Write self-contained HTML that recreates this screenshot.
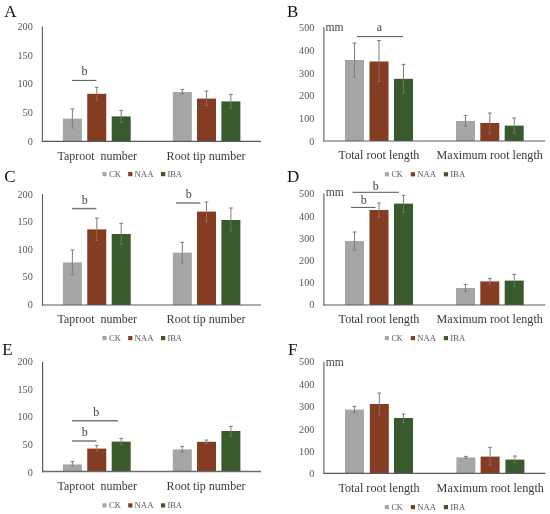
<!DOCTYPE html>
<html><head><meta charset="utf-8"><title>Figure</title>
<style>
html,body{margin:0;padding:0;background:#fff;}
svg{display:block;font-family:"Liberation Serif","Times New Roman",serif;}
</style></head><body>
<svg width="550" height="514" viewBox="0 0 550 514">
<rect width="550" height="514" fill="#fff"/>
<text x="4.2" y="16.8" font-size="17" fill="#111">A</text>
<text x="32.8" y="29.9" font-size="10.2" fill="#555" text-anchor="end">200</text>
<text x="32.8" y="58.6" font-size="10.2" fill="#555" text-anchor="end">150</text>
<text x="32.8" y="87.2" font-size="10.2" fill="#555" text-anchor="end">100</text>
<text x="32.8" y="116.0" font-size="10.2" fill="#555" text-anchor="end">50</text>
<text x="32.8" y="144.6" font-size="10.2" fill="#555" text-anchor="end">0</text>
<rect x="62.90" y="118.60" width="19.00" height="22.70" fill="#a6a6a6"/>
<rect x="87.25" y="93.80" width="19.00" height="47.50" fill="#843c22"/>
<rect x="111.70" y="116.40" width="19.00" height="24.90" fill="#385a2c"/>
<rect x="172.80" y="92.00" width="19.00" height="49.30" fill="#a6a6a6"/>
<rect x="197.00" y="98.60" width="19.00" height="42.70" fill="#843c22"/>
<rect x="221.40" y="101.40" width="19.00" height="39.90" fill="#385a2c"/>
<line x1="42.4" y1="26.6" x2="42.4" y2="141.9" stroke="#5e5e5e" stroke-width="1.1"/>
<line x1="41.85" y1="141.3" x2="261" y2="141.3" stroke="#5a5a5a" stroke-width="1.2"/>
<line x1="72.4" y1="109" x2="72.4" y2="118.6" stroke="#6e6e6e" stroke-width="0.9"/>
<line x1="72.4" y1="118.6" x2="72.4" y2="128" stroke="#747474" stroke-width="0.8" opacity="1"/>
<line x1="70.7" y1="128" x2="74.10000000000001" y2="128" stroke="#747474" stroke-width="0.7" opacity="1"/>
<line x1="70.5" y1="109" x2="74.30000000000001" y2="109" stroke="#6e6e6e" stroke-width="0.9"/>
<line x1="96.75" y1="87.4" x2="96.75" y2="93.8" stroke="#6e6e6e" stroke-width="0.9"/>
<line x1="96.75" y1="93.8" x2="96.75" y2="100" stroke="#a8a8a8" stroke-width="0.8" opacity="0.5"/>
<line x1="95.05" y1="100" x2="98.45" y2="100" stroke="#a8a8a8" stroke-width="0.7" opacity="0.5"/>
<line x1="94.85" y1="87.4" x2="98.65" y2="87.4" stroke="#6e6e6e" stroke-width="0.9"/>
<line x1="121.2" y1="110.4" x2="121.2" y2="116.4" stroke="#6e6e6e" stroke-width="0.9"/>
<line x1="121.2" y1="116.4" x2="121.2" y2="122.4" stroke="#a8a8a8" stroke-width="0.8" opacity="0.5"/>
<line x1="119.5" y1="122.4" x2="122.9" y2="122.4" stroke="#a8a8a8" stroke-width="0.7" opacity="0.5"/>
<line x1="119.3" y1="110.4" x2="123.10000000000001" y2="110.4" stroke="#6e6e6e" stroke-width="0.9"/>
<line x1="182.3" y1="89.4" x2="182.3" y2="92" stroke="#6e6e6e" stroke-width="0.9"/>
<line x1="182.3" y1="92" x2="182.3" y2="93.6" stroke="#747474" stroke-width="0.8" opacity="1"/>
<line x1="180.60000000000002" y1="93.6" x2="184.0" y2="93.6" stroke="#747474" stroke-width="0.7" opacity="1"/>
<line x1="180.4" y1="89.4" x2="184.20000000000002" y2="89.4" stroke="#6e6e6e" stroke-width="0.9"/>
<line x1="206.5" y1="91" x2="206.5" y2="98.6" stroke="#6e6e6e" stroke-width="0.9"/>
<line x1="206.5" y1="98.6" x2="206.5" y2="105.6" stroke="#a8a8a8" stroke-width="0.8" opacity="0.5"/>
<line x1="204.8" y1="105.6" x2="208.2" y2="105.6" stroke="#a8a8a8" stroke-width="0.7" opacity="0.5"/>
<line x1="204.6" y1="91" x2="208.4" y2="91" stroke="#6e6e6e" stroke-width="0.9"/>
<line x1="230.9" y1="94.4" x2="230.9" y2="101.4" stroke="#6e6e6e" stroke-width="0.9"/>
<line x1="230.9" y1="101.4" x2="230.9" y2="108" stroke="#a8a8a8" stroke-width="0.8" opacity="0.5"/>
<line x1="229.20000000000002" y1="108" x2="232.6" y2="108" stroke="#a8a8a8" stroke-width="0.7" opacity="0.5"/>
<line x1="229.0" y1="94.4" x2="232.8" y2="94.4" stroke="#6e6e6e" stroke-width="0.9"/>
<text x="57.6" y="159.5" font-size="12" fill="#3a3a3a" textLength="79.4" lengthAdjust="spacingAndGlyphs" xml:space="preserve">Taproot  number</text>
<text x="166.6" y="159.5" font-size="12" fill="#3a3a3a" textLength="79.0" lengthAdjust="spacingAndGlyphs" xml:space="preserve">Root tip number</text>
<rect x="102.40" y="172.00" width="4.20" height="4.20" fill="#a6a6a6"/>
<text x="109" y="177" font-size="8.6" fill="#595959" textLength="12" lengthAdjust="spacingAndGlyphs">CK</text>
<rect x="128.20" y="172.00" width="4.20" height="4.20" fill="#843c22"/>
<text x="134.4" y="177" font-size="8.6" fill="#595959" textLength="19.2" lengthAdjust="spacingAndGlyphs">NAA</text>
<rect x="161.00" y="172.00" width="4.20" height="4.20" fill="#385a2c"/>
<text x="167.4" y="177" font-size="8.6" fill="#595959" textLength="14.6" lengthAdjust="spacingAndGlyphs">IBA</text>
<line x1="72" y1="80.4" x2="96.4" y2="80.4" stroke="#555" stroke-width="1"/>
<text x="84.4" y="75" font-size="12" fill="#444" text-anchor="middle">b</text>
<text x="287" y="16.8" font-size="17" fill="#111">B</text>
<text x="314.4" y="31.2" font-size="10.2" fill="#555" text-anchor="end">500</text>
<text x="314.4" y="54.0" font-size="10.2" fill="#555" text-anchor="end">400</text>
<text x="314.4" y="76.7" font-size="10.2" fill="#555" text-anchor="end">300</text>
<text x="314.4" y="99.2" font-size="10.2" fill="#555" text-anchor="end">200</text>
<text x="314.4" y="121.7" font-size="10.2" fill="#555" text-anchor="end">100</text>
<text x="314.4" y="144.5" font-size="10.2" fill="#555" text-anchor="end">0</text>
<rect x="345.00" y="60.00" width="19.00" height="81.00" fill="#a6a6a6"/>
<rect x="369.50" y="61.50" width="19.00" height="79.50" fill="#843c22"/>
<rect x="394.00" y="78.80" width="19.00" height="62.20" fill="#385a2c"/>
<rect x="456.00" y="121.00" width="19.00" height="20.00" fill="#a6a6a6"/>
<rect x="480.30" y="123.00" width="19.00" height="18.00" fill="#843c22"/>
<rect x="504.70" y="125.60" width="19.00" height="15.40" fill="#385a2c"/>
<line x1="323.9" y1="27" x2="323.9" y2="141.6" stroke="#5e5e5e" stroke-width="1.1"/>
<line x1="323.34999999999997" y1="141.0" x2="545.2" y2="141.0" stroke="#5a5a5a" stroke-width="1.2"/>
<line x1="354.5" y1="43" x2="354.5" y2="60" stroke="#6e6e6e" stroke-width="0.9"/>
<line x1="354.5" y1="60" x2="354.5" y2="77" stroke="#747474" stroke-width="0.8" opacity="1"/>
<line x1="352.8" y1="77" x2="356.2" y2="77" stroke="#747474" stroke-width="0.7" opacity="1"/>
<line x1="352.6" y1="43" x2="356.4" y2="43" stroke="#6e6e6e" stroke-width="0.9"/>
<line x1="379" y1="40.6" x2="379" y2="61.5" stroke="#6e6e6e" stroke-width="0.9"/>
<line x1="379" y1="61.5" x2="379" y2="81.6" stroke="#a8a8a8" stroke-width="0.8" opacity="0.5"/>
<line x1="377.3" y1="81.6" x2="380.7" y2="81.6" stroke="#a8a8a8" stroke-width="0.7" opacity="0.5"/>
<line x1="377.1" y1="40.6" x2="380.9" y2="40.6" stroke="#6e6e6e" stroke-width="0.9"/>
<line x1="403.5" y1="64.4" x2="403.5" y2="78.8" stroke="#6e6e6e" stroke-width="0.9"/>
<line x1="403.5" y1="78.8" x2="403.5" y2="93" stroke="#a8a8a8" stroke-width="0.8" opacity="0.5"/>
<line x1="401.8" y1="93" x2="405.2" y2="93" stroke="#a8a8a8" stroke-width="0.7" opacity="0.5"/>
<line x1="401.6" y1="64.4" x2="405.4" y2="64.4" stroke="#6e6e6e" stroke-width="0.9"/>
<line x1="465.5" y1="115.4" x2="465.5" y2="121" stroke="#6e6e6e" stroke-width="0.9"/>
<line x1="465.5" y1="121" x2="465.5" y2="126.4" stroke="#747474" stroke-width="0.8" opacity="1"/>
<line x1="463.8" y1="126.4" x2="467.2" y2="126.4" stroke="#747474" stroke-width="0.7" opacity="1"/>
<line x1="463.6" y1="115.4" x2="467.4" y2="115.4" stroke="#6e6e6e" stroke-width="0.9"/>
<line x1="489.8" y1="113" x2="489.8" y2="123" stroke="#6e6e6e" stroke-width="0.9"/>
<line x1="489.8" y1="123" x2="489.8" y2="133.4" stroke="#a8a8a8" stroke-width="0.8" opacity="0.5"/>
<line x1="488.1" y1="133.4" x2="491.5" y2="133.4" stroke="#a8a8a8" stroke-width="0.7" opacity="0.5"/>
<line x1="487.90000000000003" y1="113" x2="491.7" y2="113" stroke="#6e6e6e" stroke-width="0.9"/>
<line x1="514.2" y1="118" x2="514.2" y2="125.6" stroke="#6e6e6e" stroke-width="0.9"/>
<line x1="514.2" y1="125.6" x2="514.2" y2="133" stroke="#a8a8a8" stroke-width="0.8" opacity="0.5"/>
<line x1="512.5" y1="133" x2="515.9000000000001" y2="133" stroke="#a8a8a8" stroke-width="0.7" opacity="0.5"/>
<line x1="512.3000000000001" y1="118" x2="516.1" y2="118" stroke="#6e6e6e" stroke-width="0.9"/>
<text x="338.6" y="159.4" font-size="12" fill="#3a3a3a" textLength="80.8" lengthAdjust="spacingAndGlyphs" xml:space="preserve">Total root length</text>
<text x="436.6" y="159.4" font-size="12" fill="#3a3a3a" textLength="106.2" lengthAdjust="spacingAndGlyphs" xml:space="preserve">Maximum root length</text>
<rect x="384.80" y="172.20" width="4.20" height="4.20" fill="#a6a6a6"/>
<text x="391.4" y="177" font-size="8.6" fill="#595959" textLength="11.4" lengthAdjust="spacingAndGlyphs">CK</text>
<rect x="410.80" y="172.20" width="4.20" height="4.20" fill="#843c22"/>
<text x="417.2" y="177" font-size="8.6" fill="#595959" textLength="18.8" lengthAdjust="spacingAndGlyphs">NAA</text>
<rect x="443.80" y="172.20" width="4.20" height="4.20" fill="#385a2c"/>
<text x="450.2" y="177" font-size="8.6" fill="#595959" textLength="15.0" lengthAdjust="spacingAndGlyphs">IBA</text>
<line x1="357" y1="36.6" x2="403" y2="36.6" stroke="#555" stroke-width="1"/>
<text x="379.3" y="31.4" font-size="12" fill="#444" text-anchor="middle">a</text>
<text x="325.4" y="31" font-size="11.6" fill="#444">mm</text>
<text x="4.2" y="181.9" font-size="17" fill="#111">C</text>
<text x="32.8" y="197.5" font-size="10.2" fill="#555" text-anchor="end">200</text>
<text x="32.8" y="225.2" font-size="10.2" fill="#555" text-anchor="end">150</text>
<text x="32.8" y="252.7" font-size="10.2" fill="#555" text-anchor="end">100</text>
<text x="32.8" y="280.3" font-size="10.2" fill="#555" text-anchor="end">50</text>
<text x="32.8" y="308.2" font-size="10.2" fill="#555" text-anchor="end">0</text>
<rect x="62.90" y="262.40" width="19.00" height="42.60" fill="#a6a6a6"/>
<rect x="87.25" y="229.40" width="19.00" height="75.60" fill="#843c22"/>
<rect x="111.70" y="234.00" width="19.00" height="71.00" fill="#385a2c"/>
<rect x="172.80" y="252.60" width="19.00" height="52.40" fill="#a6a6a6"/>
<rect x="197.00" y="211.60" width="19.00" height="93.40" fill="#843c22"/>
<rect x="221.40" y="220.00" width="19.00" height="85.00" fill="#385a2c"/>
<line x1="42.5" y1="194" x2="42.5" y2="305.6" stroke="#5e5e5e" stroke-width="1.1"/>
<line x1="41.95" y1="305.0" x2="261" y2="305.0" stroke="#5a5a5a" stroke-width="1.2"/>
<line x1="72.4" y1="250" x2="72.4" y2="262.4" stroke="#6e6e6e" stroke-width="0.9"/>
<line x1="72.4" y1="262.4" x2="72.4" y2="274.6" stroke="#747474" stroke-width="0.8" opacity="1"/>
<line x1="70.7" y1="274.6" x2="74.10000000000001" y2="274.6" stroke="#747474" stroke-width="0.7" opacity="1"/>
<line x1="70.5" y1="250" x2="74.30000000000001" y2="250" stroke="#6e6e6e" stroke-width="0.9"/>
<line x1="96.75" y1="218" x2="96.75" y2="229.4" stroke="#6e6e6e" stroke-width="0.9"/>
<line x1="96.75" y1="229.4" x2="96.75" y2="240.6" stroke="#a8a8a8" stroke-width="0.8" opacity="0.5"/>
<line x1="95.05" y1="240.6" x2="98.45" y2="240.6" stroke="#a8a8a8" stroke-width="0.7" opacity="0.5"/>
<line x1="94.85" y1="218" x2="98.65" y2="218" stroke="#6e6e6e" stroke-width="0.9"/>
<line x1="121.2" y1="223.4" x2="121.2" y2="234" stroke="#6e6e6e" stroke-width="0.9"/>
<line x1="121.2" y1="234" x2="121.2" y2="244.4" stroke="#a8a8a8" stroke-width="0.8" opacity="0.5"/>
<line x1="119.5" y1="244.4" x2="122.9" y2="244.4" stroke="#a8a8a8" stroke-width="0.7" opacity="0.5"/>
<line x1="119.3" y1="223.4" x2="123.10000000000001" y2="223.4" stroke="#6e6e6e" stroke-width="0.9"/>
<line x1="182.3" y1="242.4" x2="182.3" y2="252.6" stroke="#6e6e6e" stroke-width="0.9"/>
<line x1="182.3" y1="252.6" x2="182.3" y2="263" stroke="#747474" stroke-width="0.8" opacity="1"/>
<line x1="180.60000000000002" y1="263" x2="184.0" y2="263" stroke="#747474" stroke-width="0.7" opacity="1"/>
<line x1="180.4" y1="242.4" x2="184.20000000000002" y2="242.4" stroke="#6e6e6e" stroke-width="0.9"/>
<line x1="206.5" y1="202" x2="206.5" y2="211.6" stroke="#6e6e6e" stroke-width="0.9"/>
<line x1="206.5" y1="211.6" x2="206.5" y2="221.6" stroke="#a8a8a8" stroke-width="0.8" opacity="0.5"/>
<line x1="204.8" y1="221.6" x2="208.2" y2="221.6" stroke="#a8a8a8" stroke-width="0.7" opacity="0.5"/>
<line x1="204.6" y1="202" x2="208.4" y2="202" stroke="#6e6e6e" stroke-width="0.9"/>
<line x1="230.9" y1="208" x2="230.9" y2="220" stroke="#6e6e6e" stroke-width="0.9"/>
<line x1="230.9" y1="220" x2="230.9" y2="231" stroke="#a8a8a8" stroke-width="0.8" opacity="0.5"/>
<line x1="229.20000000000002" y1="231" x2="232.6" y2="231" stroke="#a8a8a8" stroke-width="0.7" opacity="0.5"/>
<line x1="229.0" y1="208" x2="232.8" y2="208" stroke="#6e6e6e" stroke-width="0.9"/>
<text x="57.6" y="323.3" font-size="12" fill="#3a3a3a" textLength="79.4" lengthAdjust="spacingAndGlyphs" xml:space="preserve">Taproot  number</text>
<text x="166.6" y="323.3" font-size="12" fill="#3a3a3a" textLength="79.0" lengthAdjust="spacingAndGlyphs" xml:space="preserve">Root tip number</text>
<rect x="102.40" y="336.00" width="4.20" height="4.20" fill="#a6a6a6"/>
<text x="109" y="341" font-size="8.6" fill="#595959" textLength="12" lengthAdjust="spacingAndGlyphs">CK</text>
<rect x="128.20" y="336.00" width="4.20" height="4.20" fill="#843c22"/>
<text x="134.4" y="341" font-size="8.6" fill="#595959" textLength="19.2" lengthAdjust="spacingAndGlyphs">NAA</text>
<rect x="161.00" y="336.00" width="4.20" height="4.20" fill="#385a2c"/>
<text x="167.4" y="341" font-size="8.6" fill="#595959" textLength="14.6" lengthAdjust="spacingAndGlyphs">IBA</text>
<line x1="72" y1="208.6" x2="96.4" y2="208.6" stroke="#7a7a7a" stroke-width="1.5"/>
<text x="84.7" y="203.6" font-size="12" fill="#444" text-anchor="middle">b</text>
<line x1="176" y1="203" x2="200.4" y2="203" stroke="#7a7a7a" stroke-width="1.5"/>
<text x="188.8" y="198" font-size="12" fill="#444" text-anchor="middle">b</text>
<text x="287" y="181.7" font-size="17" fill="#111">D</text>
<text x="314.4" y="197.2" font-size="10.2" fill="#555" text-anchor="end">500</text>
<text x="314.4" y="219.6" font-size="10.2" fill="#555" text-anchor="end">400</text>
<text x="314.4" y="241.7" font-size="10.2" fill="#555" text-anchor="end">300</text>
<text x="314.4" y="264.2" font-size="10.2" fill="#555" text-anchor="end">200</text>
<text x="314.4" y="286.2" font-size="10.2" fill="#555" text-anchor="end">100</text>
<text x="314.4" y="308.2" font-size="10.2" fill="#555" text-anchor="end">0</text>
<rect x="345.00" y="241.00" width="19.00" height="64.00" fill="#a6a6a6"/>
<rect x="369.50" y="210.00" width="19.00" height="95.00" fill="#843c22"/>
<rect x="394.00" y="203.60" width="19.00" height="101.40" fill="#385a2c"/>
<rect x="456.00" y="288.00" width="19.00" height="17.00" fill="#a6a6a6"/>
<rect x="480.30" y="281.40" width="19.00" height="23.60" fill="#843c22"/>
<rect x="504.70" y="280.60" width="19.00" height="24.40" fill="#385a2c"/>
<line x1="323.9" y1="193.6" x2="323.9" y2="305.6" stroke="#5e5e5e" stroke-width="1.1"/>
<line x1="323.34999999999997" y1="305.0" x2="545.2" y2="305.0" stroke="#5a5a5a" stroke-width="1.2"/>
<line x1="354.5" y1="232" x2="354.5" y2="241" stroke="#6e6e6e" stroke-width="0.9"/>
<line x1="354.5" y1="241" x2="354.5" y2="250" stroke="#747474" stroke-width="0.8" opacity="1"/>
<line x1="352.8" y1="250" x2="356.2" y2="250" stroke="#747474" stroke-width="0.7" opacity="1"/>
<line x1="352.6" y1="232" x2="356.4" y2="232" stroke="#6e6e6e" stroke-width="0.9"/>
<line x1="379" y1="203" x2="379" y2="210" stroke="#6e6e6e" stroke-width="0.9"/>
<line x1="379" y1="210" x2="379" y2="217" stroke="#a8a8a8" stroke-width="0.8" opacity="0.5"/>
<line x1="377.3" y1="217" x2="380.7" y2="217" stroke="#a8a8a8" stroke-width="0.7" opacity="0.5"/>
<line x1="377.1" y1="203" x2="380.9" y2="203" stroke="#6e6e6e" stroke-width="0.9"/>
<line x1="403.5" y1="195.4" x2="403.5" y2="203.6" stroke="#6e6e6e" stroke-width="0.9"/>
<line x1="403.5" y1="203.6" x2="403.5" y2="212" stroke="#a8a8a8" stroke-width="0.8" opacity="0.5"/>
<line x1="401.8" y1="212" x2="405.2" y2="212" stroke="#a8a8a8" stroke-width="0.7" opacity="0.5"/>
<line x1="401.6" y1="195.4" x2="405.4" y2="195.4" stroke="#6e6e6e" stroke-width="0.9"/>
<line x1="465.5" y1="284.4" x2="465.5" y2="288" stroke="#6e6e6e" stroke-width="0.9"/>
<line x1="465.5" y1="288" x2="465.5" y2="291.4" stroke="#747474" stroke-width="0.8" opacity="1"/>
<line x1="463.8" y1="291.4" x2="467.2" y2="291.4" stroke="#747474" stroke-width="0.7" opacity="1"/>
<line x1="463.6" y1="284.4" x2="467.4" y2="284.4" stroke="#6e6e6e" stroke-width="0.9"/>
<line x1="489.8" y1="278.4" x2="489.8" y2="281.4" stroke="#6e6e6e" stroke-width="0.9"/>
<line x1="489.8" y1="281.4" x2="489.8" y2="284" stroke="#a8a8a8" stroke-width="0.8" opacity="0.5"/>
<line x1="488.1" y1="284" x2="491.5" y2="284" stroke="#a8a8a8" stroke-width="0.7" opacity="0.5"/>
<line x1="487.90000000000003" y1="278.4" x2="491.7" y2="278.4" stroke="#6e6e6e" stroke-width="0.9"/>
<line x1="514.2" y1="274.4" x2="514.2" y2="280.6" stroke="#6e6e6e" stroke-width="0.9"/>
<line x1="514.2" y1="280.6" x2="514.2" y2="286.4" stroke="#a8a8a8" stroke-width="0.8" opacity="0.5"/>
<line x1="512.5" y1="286.4" x2="515.9000000000001" y2="286.4" stroke="#a8a8a8" stroke-width="0.7" opacity="0.5"/>
<line x1="512.3000000000001" y1="274.4" x2="516.1" y2="274.4" stroke="#6e6e6e" stroke-width="0.9"/>
<text x="338.6" y="322.9" font-size="12" fill="#3a3a3a" textLength="80.8" lengthAdjust="spacingAndGlyphs" xml:space="preserve">Total root length</text>
<text x="436.6" y="322.9" font-size="12" fill="#3a3a3a" textLength="106.2" lengthAdjust="spacingAndGlyphs" xml:space="preserve">Maximum root length</text>
<rect x="384.80" y="336.00" width="4.20" height="4.20" fill="#a6a6a6"/>
<text x="391.4" y="341" font-size="8.6" fill="#595959" textLength="11.4" lengthAdjust="spacingAndGlyphs">CK</text>
<rect x="410.80" y="336.00" width="4.20" height="4.20" fill="#843c22"/>
<text x="417.2" y="341" font-size="8.6" fill="#595959" textLength="18.8" lengthAdjust="spacingAndGlyphs">NAA</text>
<rect x="443.80" y="336.00" width="4.20" height="4.20" fill="#385a2c"/>
<text x="450.2" y="341" font-size="8.6" fill="#595959" textLength="15.0" lengthAdjust="spacingAndGlyphs">IBA</text>
<line x1="352.6" y1="192.3" x2="399" y2="192.3" stroke="#555" stroke-width="1"/>
<text x="375.8" y="189.6" font-size="12" fill="#444" text-anchor="middle">b</text>
<line x1="351" y1="207.4" x2="375.6" y2="207.4" stroke="#555" stroke-width="1"/>
<text x="363.8" y="204.4" font-size="12" fill="#444" text-anchor="middle">b</text>
<text x="325.8" y="196" font-size="11.6" fill="#444">mm</text>
<text x="2.2" y="354.6" font-size="17" fill="#111">E</text>
<text x="32.8" y="365.0" font-size="10.2" fill="#555" text-anchor="end">200</text>
<text x="32.8" y="392.6" font-size="10.2" fill="#555" text-anchor="end">150</text>
<text x="32.8" y="420.2" font-size="10.2" fill="#555" text-anchor="end">100</text>
<text x="32.8" y="448.1" font-size="10.2" fill="#555" text-anchor="end">50</text>
<text x="32.8" y="475.5" font-size="10.2" fill="#555" text-anchor="end">0</text>
<rect x="62.90" y="464.40" width="19.00" height="7.10" fill="#a6a6a6"/>
<rect x="87.25" y="448.60" width="19.00" height="22.90" fill="#843c22"/>
<rect x="111.70" y="441.60" width="19.00" height="29.90" fill="#385a2c"/>
<rect x="172.80" y="449.40" width="19.00" height="22.10" fill="#a6a6a6"/>
<rect x="197.00" y="441.80" width="19.00" height="29.70" fill="#843c22"/>
<rect x="221.40" y="431.00" width="19.00" height="40.50" fill="#385a2c"/>
<line x1="42.6" y1="362" x2="42.6" y2="472.25" stroke="#5a5a5a" stroke-width="1.2"/>
<line x1="42.0" y1="471.5" x2="261" y2="471.5" stroke="#6a6a6a" stroke-width="1.5"/>
<line x1="72.4" y1="461.6" x2="72.4" y2="464.4" stroke="#6e6e6e" stroke-width="0.9"/>
<line x1="72.4" y1="464.4" x2="72.4" y2="466" stroke="#747474" stroke-width="0.8" opacity="1"/>
<line x1="70.7" y1="466" x2="74.10000000000001" y2="466" stroke="#747474" stroke-width="0.7" opacity="1"/>
<line x1="70.5" y1="461.6" x2="74.30000000000001" y2="461.6" stroke="#6e6e6e" stroke-width="0.9"/>
<line x1="96.75" y1="445.4" x2="96.75" y2="448.6" stroke="#6e6e6e" stroke-width="0.9"/>
<line x1="96.75" y1="448.6" x2="96.75" y2="451" stroke="#a8a8a8" stroke-width="0.8" opacity="0.5"/>
<line x1="95.05" y1="451" x2="98.45" y2="451" stroke="#a8a8a8" stroke-width="0.7" opacity="0.5"/>
<line x1="94.85" y1="445.4" x2="98.65" y2="445.4" stroke="#6e6e6e" stroke-width="0.9"/>
<line x1="121.2" y1="438.4" x2="121.2" y2="441.6" stroke="#6e6e6e" stroke-width="0.9"/>
<line x1="121.2" y1="441.6" x2="121.2" y2="445" stroke="#a8a8a8" stroke-width="0.8" opacity="0.5"/>
<line x1="119.5" y1="445" x2="122.9" y2="445" stroke="#a8a8a8" stroke-width="0.7" opacity="0.5"/>
<line x1="119.3" y1="438.4" x2="123.10000000000001" y2="438.4" stroke="#6e6e6e" stroke-width="0.9"/>
<line x1="182.3" y1="446.4" x2="182.3" y2="449.4" stroke="#6e6e6e" stroke-width="0.9"/>
<line x1="182.3" y1="449.4" x2="182.3" y2="452" stroke="#747474" stroke-width="0.8" opacity="1"/>
<line x1="180.60000000000002" y1="452" x2="184.0" y2="452" stroke="#747474" stroke-width="0.7" opacity="1"/>
<line x1="180.4" y1="446.4" x2="184.20000000000002" y2="446.4" stroke="#6e6e6e" stroke-width="0.9"/>
<line x1="206.5" y1="440" x2="206.5" y2="441.8" stroke="#6e6e6e" stroke-width="0.9"/>
<line x1="206.5" y1="441.8" x2="206.5" y2="443.5" stroke="#a8a8a8" stroke-width="0.8" opacity="0.5"/>
<line x1="204.8" y1="443.5" x2="208.2" y2="443.5" stroke="#a8a8a8" stroke-width="0.7" opacity="0.5"/>
<line x1="204.6" y1="440" x2="208.4" y2="440" stroke="#6e6e6e" stroke-width="0.9"/>
<line x1="230.9" y1="426.4" x2="230.9" y2="431" stroke="#6e6e6e" stroke-width="0.9"/>
<line x1="230.9" y1="431" x2="230.9" y2="436" stroke="#a8a8a8" stroke-width="0.8" opacity="0.5"/>
<line x1="229.20000000000002" y1="436" x2="232.6" y2="436" stroke="#a8a8a8" stroke-width="0.7" opacity="0.5"/>
<line x1="229.0" y1="426.4" x2="232.8" y2="426.4" stroke="#6e6e6e" stroke-width="0.9"/>
<text x="57.6" y="489.8" font-size="12" fill="#3a3a3a" textLength="79.4" lengthAdjust="spacingAndGlyphs" xml:space="preserve">Taproot  number</text>
<text x="166.6" y="489.8" font-size="12" fill="#3a3a3a" textLength="79.0" lengthAdjust="spacingAndGlyphs" xml:space="preserve">Root tip number</text>
<rect x="102.40" y="503.30" width="4.20" height="4.20" fill="#a6a6a6"/>
<text x="109" y="508.1" font-size="8.6" fill="#595959" textLength="12" lengthAdjust="spacingAndGlyphs">CK</text>
<rect x="128.20" y="503.30" width="4.20" height="4.20" fill="#843c22"/>
<text x="134.4" y="508.1" font-size="8.6" fill="#595959" textLength="19.2" lengthAdjust="spacingAndGlyphs">NAA</text>
<rect x="161.00" y="503.30" width="4.20" height="4.20" fill="#385a2c"/>
<text x="167.4" y="508.1" font-size="8.6" fill="#595959" textLength="14.6" lengthAdjust="spacingAndGlyphs">IBA</text>
<line x1="72" y1="420.8" x2="118" y2="420.8" stroke="#7a7a7a" stroke-width="1.5"/>
<text x="96.3" y="415.6" font-size="12" fill="#444" text-anchor="middle">b</text>
<line x1="72" y1="441" x2="96.4" y2="441" stroke="#7a7a7a" stroke-width="1.5"/>
<text x="84.7" y="435.6" font-size="12" fill="#444" text-anchor="middle">b</text>
<text x="288" y="354.6" font-size="17" fill="#111">F</text>
<text x="314.4" y="365.2" font-size="10.2" fill="#555" text-anchor="end">500</text>
<text x="314.4" y="387.7" font-size="10.2" fill="#555" text-anchor="end">400</text>
<text x="314.4" y="409.9" font-size="10.2" fill="#555" text-anchor="end">300</text>
<text x="314.4" y="432.5" font-size="10.2" fill="#555" text-anchor="end">200</text>
<text x="314.4" y="454.9" font-size="10.2" fill="#555" text-anchor="end">100</text>
<text x="314.4" y="477.0" font-size="10.2" fill="#555" text-anchor="end">0</text>
<rect x="345.00" y="409.60" width="19.00" height="63.70" fill="#a6a6a6"/>
<rect x="369.80" y="404.00" width="19.00" height="69.30" fill="#843c22"/>
<rect x="394.00" y="418.00" width="19.00" height="55.30" fill="#385a2c"/>
<rect x="456.40" y="457.40" width="19.00" height="15.90" fill="#a6a6a6"/>
<rect x="480.60" y="456.60" width="19.00" height="16.70" fill="#843c22"/>
<rect x="505.40" y="459.60" width="19.00" height="13.70" fill="#385a2c"/>
<line x1="323.9" y1="362" x2="323.9" y2="473.90000000000003" stroke="#5e5e5e" stroke-width="1.1"/>
<line x1="323.34999999999997" y1="473.3" x2="545.4" y2="473.3" stroke="#5a5a5a" stroke-width="1.2"/>
<line x1="354.5" y1="406.4" x2="354.5" y2="409.6" stroke="#6e6e6e" stroke-width="0.9"/>
<line x1="354.5" y1="409.6" x2="354.5" y2="412.4" stroke="#747474" stroke-width="0.8" opacity="1"/>
<line x1="352.8" y1="412.4" x2="356.2" y2="412.4" stroke="#747474" stroke-width="0.7" opacity="1"/>
<line x1="352.6" y1="406.4" x2="356.4" y2="406.4" stroke="#6e6e6e" stroke-width="0.9"/>
<line x1="379.3" y1="393" x2="379.3" y2="404" stroke="#6e6e6e" stroke-width="0.9"/>
<line x1="379.3" y1="404" x2="379.3" y2="415" stroke="#a8a8a8" stroke-width="0.8" opacity="0.5"/>
<line x1="377.6" y1="415" x2="381.0" y2="415" stroke="#a8a8a8" stroke-width="0.7" opacity="0.5"/>
<line x1="377.40000000000003" y1="393" x2="381.2" y2="393" stroke="#6e6e6e" stroke-width="0.9"/>
<line x1="403.5" y1="414" x2="403.5" y2="418" stroke="#6e6e6e" stroke-width="0.9"/>
<line x1="403.5" y1="418" x2="403.5" y2="422.4" stroke="#a8a8a8" stroke-width="0.8" opacity="0.5"/>
<line x1="401.8" y1="422.4" x2="405.2" y2="422.4" stroke="#a8a8a8" stroke-width="0.7" opacity="0.5"/>
<line x1="401.6" y1="414" x2="405.4" y2="414" stroke="#6e6e6e" stroke-width="0.9"/>
<line x1="465.9" y1="456.4" x2="465.9" y2="457.4" stroke="#6e6e6e" stroke-width="0.9"/>
<line x1="465.9" y1="457.4" x2="465.9" y2="458.6" stroke="#747474" stroke-width="0.8" opacity="1"/>
<line x1="464.2" y1="458.6" x2="467.59999999999997" y2="458.6" stroke="#747474" stroke-width="0.7" opacity="1"/>
<line x1="464.0" y1="456.4" x2="467.79999999999995" y2="456.4" stroke="#6e6e6e" stroke-width="0.9"/>
<line x1="490.1" y1="447.4" x2="490.1" y2="456.6" stroke="#6e6e6e" stroke-width="0.9"/>
<line x1="490.1" y1="456.6" x2="490.1" y2="465" stroke="#a8a8a8" stroke-width="0.8" opacity="0.5"/>
<line x1="488.40000000000003" y1="465" x2="491.8" y2="465" stroke="#a8a8a8" stroke-width="0.7" opacity="0.5"/>
<line x1="488.20000000000005" y1="447.4" x2="492.0" y2="447.4" stroke="#6e6e6e" stroke-width="0.9"/>
<line x1="514.9" y1="456" x2="514.9" y2="459.6" stroke="#6e6e6e" stroke-width="0.9"/>
<line x1="514.9" y1="459.6" x2="514.9" y2="462.6" stroke="#a8a8a8" stroke-width="0.8" opacity="0.5"/>
<line x1="513.1999999999999" y1="462.6" x2="516.6" y2="462.6" stroke="#a8a8a8" stroke-width="0.7" opacity="0.5"/>
<line x1="513.0" y1="456" x2="516.8" y2="456" stroke="#6e6e6e" stroke-width="0.9"/>
<text x="338.4" y="491.8" font-size="12" fill="#3a3a3a" textLength="81.2" lengthAdjust="spacingAndGlyphs" xml:space="preserve">Total root length</text>
<text x="436.6" y="491.8" font-size="12" fill="#3a3a3a" textLength="107.4" lengthAdjust="spacingAndGlyphs" xml:space="preserve">Maximum root length</text>
<rect x="384.80" y="505.00" width="4.20" height="4.20" fill="#a6a6a6"/>
<text x="391.4" y="510" font-size="8.6" fill="#595959" textLength="11.4" lengthAdjust="spacingAndGlyphs">CK</text>
<rect x="410.80" y="505.00" width="4.20" height="4.20" fill="#843c22"/>
<text x="417.2" y="510" font-size="8.6" fill="#595959" textLength="18.8" lengthAdjust="spacingAndGlyphs">NAA</text>
<rect x="443.80" y="505.00" width="4.20" height="4.20" fill="#385a2c"/>
<text x="450.2" y="510" font-size="8.6" fill="#595959" textLength="15.0" lengthAdjust="spacingAndGlyphs">IBA</text>
<text x="325.8" y="366" font-size="11.6" fill="#444">mm</text>
</svg>
</body></html>
